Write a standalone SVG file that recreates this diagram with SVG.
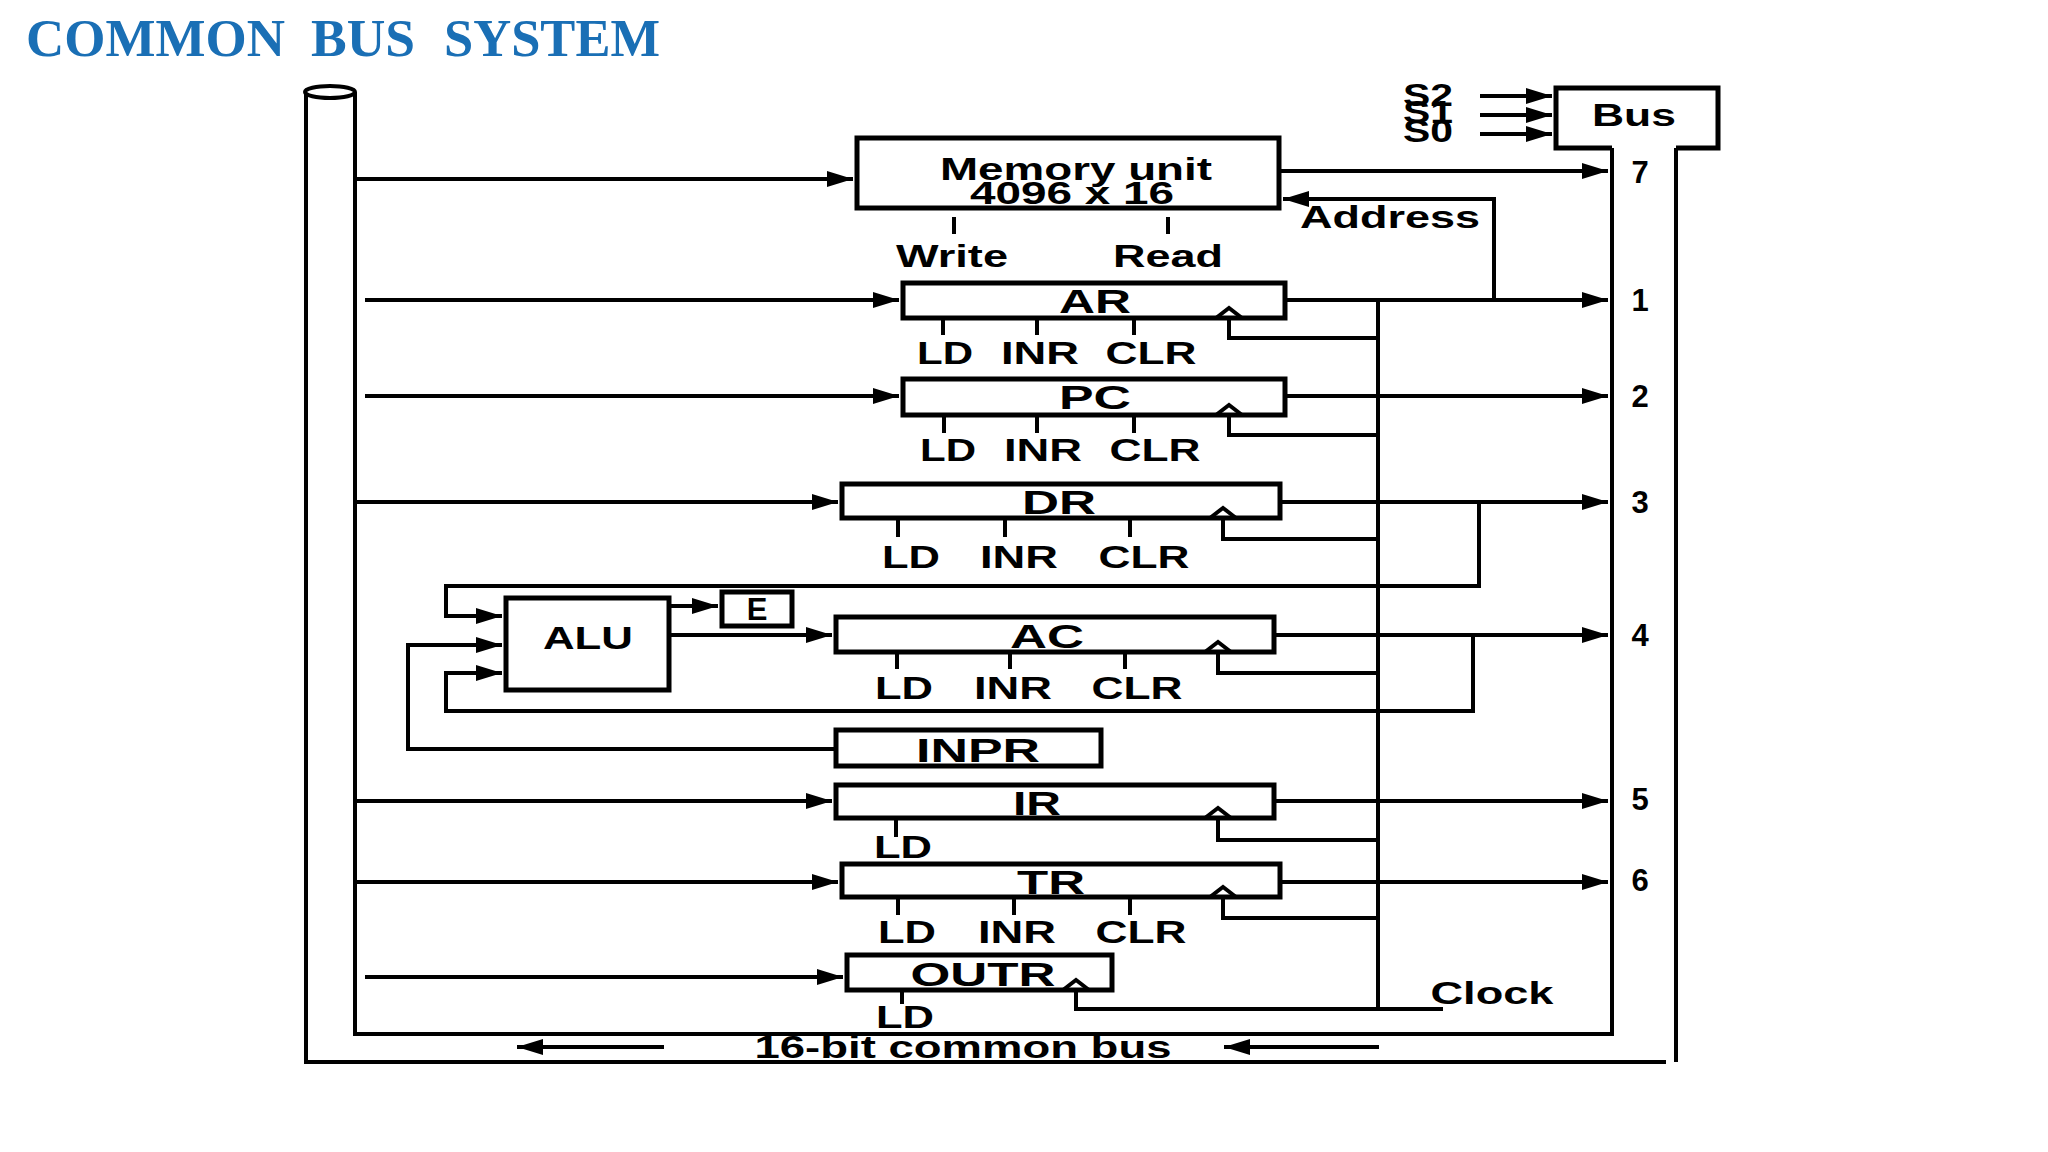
<svg xmlns="http://www.w3.org/2000/svg" width="2048" height="1152" viewBox="0 0 2048 1152">
<defs>
<marker id="a" markerWidth="26" markerHeight="16" refX="26" refY="8" orient="auto" markerUnits="userSpaceOnUse"><path d="M0,0 L26,8 L0,16 z" fill="#000"/></marker>
</defs>
<style>
.l{stroke:#000;stroke-width:4;fill:none}
.b{stroke:#000;stroke-width:5;fill:#fff}
.t{font-family:"Liberation Sans",Arial,sans-serif;font-weight:bold;font-size:31px;fill:#000;text-anchor:middle}
.r{font-size:34px}
.h{font-family:"Liberation Serif",serif;font-weight:bold;font-size:52px;fill:#1a6fb5}
</style>
<rect width="2048" height="1152" fill="#fff"/>
<g id="title">
<text class="h" x="26" y="56" textLength="259" lengthAdjust="spacingAndGlyphs">COMMON</text>
<text class="h" x="311" y="56" textLength="104" lengthAdjust="spacingAndGlyphs">BUS</text>
<text class="h" x="444" y="56" textLength="216" lengthAdjust="spacingAndGlyphs">SYSTEM</text>
</g>
<g id="bus">
<path class="l" d="M306,92 V1062 H1666"/>
<path class="l" d="M355,92 V1034 H1612 V148"/>
<path class="l" d="M1676,148 V1062"/>
<ellipse cx="330" cy="92" rx="25" ry="6" fill="#fff" stroke="#000" stroke-width="4"/>
<text class="t" x="963" y="1058" textLength="417" lengthAdjust="spacingAndGlyphs">16-bit common bus</text>
<path class="l" d="M664,1047 H517" marker-end="url(#a)"/>
<path class="l" d="M1379,1047 H1224" marker-end="url(#a)"/>
</g>
<g id="busselect">
<path class="b" d="M1612,148 H1556 V88 H1718 V148 H1676"/>
<text class="t" x="1634" y="126" textLength="84" lengthAdjust="spacingAndGlyphs">Bus</text>
<text class="t" x="1428" y="106" textLength="50" lengthAdjust="spacingAndGlyphs">S2</text>
<text class="t" x="1428" y="123" textLength="50" lengthAdjust="spacingAndGlyphs">S1</text>
<text class="t" x="1428" y="142" textLength="50" lengthAdjust="spacingAndGlyphs">S0</text>
<text class="t" x="1640" y="183">7</text>
<text class="t" x="1640" y="311">1</text>
<text class="t" x="1640" y="407">2</text>
<text class="t" x="1640" y="513">3</text>
<text class="t" x="1640" y="646">4</text>
<text class="t" x="1640" y="810">5</text>
<text class="t" x="1640" y="891">6</text>
</g>
<g id="mem">
<rect class="b" x="857" y="138" width="422" height="70"/>
<text class="t" x="1076" y="180" textLength="272" lengthAdjust="spacingAndGlyphs">Memory unit</text>
<text class="t" x="1072" y="204" textLength="204" lengthAdjust="spacingAndGlyphs">4096 x 16</text>
<path class="l" d="M954,217 V234 M1168,217 V234"/>
<text class="t" x="952" y="267" textLength="112" lengthAdjust="spacingAndGlyphs">Write</text>
<text class="t" x="1168" y="267" textLength="110" lengthAdjust="spacingAndGlyphs">Read</text>
<text class="t" x="1390" y="228" textLength="180" lengthAdjust="spacingAndGlyphs">Address</text>
</g>
<g id="AR"><rect class="b" x="903" y="283" width="382" height="35"/><text class="t r" x="1095" y="313" textLength="72" lengthAdjust="spacingAndGlyphs">AR</text>
<path class="l" d="M1216,318 L1229,308 L1242,318 M943,318 V335 M1037,318 V335 M1134,318 V335"/>
<text class="t" x="945" y="364" textLength="56" lengthAdjust="spacingAndGlyphs">LD</text><text class="t" x="1040" y="364" textLength="78" lengthAdjust="spacingAndGlyphs">INR</text><text class="t" x="1151" y="364" textLength="91" lengthAdjust="spacingAndGlyphs">CLR</text></g>
<g id="PC"><rect class="b" x="903" y="379" width="382" height="36"/><text class="t r" x="1095" y="409" textLength="72" lengthAdjust="spacingAndGlyphs">PC</text>
<path class="l" d="M1216,415 L1229,405 L1242,415 M944,415 V433 M1037,415 V433 M1134,415 V433"/>
<text class="t" x="948" y="461" textLength="56" lengthAdjust="spacingAndGlyphs">LD</text><text class="t" x="1043" y="461" textLength="78" lengthAdjust="spacingAndGlyphs">INR</text><text class="t" x="1155" y="461" textLength="91" lengthAdjust="spacingAndGlyphs">CLR</text></g>
<g id="DR"><rect class="b" x="842" y="484" width="438" height="34"/><text class="t r" x="1059" y="514" textLength="74" lengthAdjust="spacingAndGlyphs">DR</text>
<path class="l" d="M1210,518 L1223,508 L1236,518 M898,518 V537 M1005,518 V537 M1130,518 V537"/>
<text class="t" x="911" y="568" textLength="58" lengthAdjust="spacingAndGlyphs">LD</text><text class="t" x="1019" y="568" textLength="78" lengthAdjust="spacingAndGlyphs">INR</text><text class="t" x="1144" y="568" textLength="91" lengthAdjust="spacingAndGlyphs">CLR</text></g>
<g id="ALU"><rect class="b" x="506" y="598" width="163" height="92"/><text class="t" x="588" y="649" textLength="90" lengthAdjust="spacingAndGlyphs">ALU</text></g>
<g id="E"><rect class="b" x="722" y="592" width="70" height="34"/><text class="t" x="757" y="620">E</text></g>
<g id="AC"><rect class="b" x="836" y="617" width="438" height="35"/><text class="t r" x="1047" y="648" textLength="74" lengthAdjust="spacingAndGlyphs">AC</text>
<path class="l" d="M1205,652 L1218,642 L1231,652 M897,652 V669 M1010,652 V669 M1125,652 V669"/>
<text class="t" x="904" y="699" textLength="58" lengthAdjust="spacingAndGlyphs">LD</text><text class="t" x="1013" y="699" textLength="78" lengthAdjust="spacingAndGlyphs">INR</text><text class="t" x="1137" y="699" textLength="91" lengthAdjust="spacingAndGlyphs">CLR</text></g>
<g id="INPR"><rect class="b" x="836" y="730" width="265" height="36"/><text class="t r" x="978" y="762" textLength="124" lengthAdjust="spacingAndGlyphs">INPR</text></g>
<g id="IR"><rect class="b" x="836" y="785" width="438" height="33"/><text class="t r" x="1037" y="815" textLength="48" lengthAdjust="spacingAndGlyphs">IR</text>
<path class="l" d="M1205,818 L1218,808 L1231,818 M896,818 V837"/>
<text class="t" x="903" y="858" textLength="58" lengthAdjust="spacingAndGlyphs">LD</text></g>
<g id="TR"><rect class="b" x="842" y="864" width="438" height="33"/><text class="t r" x="1051" y="894" textLength="68" lengthAdjust="spacingAndGlyphs">TR</text>
<path class="l" d="M1210,897 L1223,887 L1236,897 M898,897 V915 M1014,897 V915 M1130,897 V915"/>
<text class="t" x="907" y="943" textLength="58" lengthAdjust="spacingAndGlyphs">LD</text><text class="t" x="1017" y="943" textLength="78" lengthAdjust="spacingAndGlyphs">INR</text><text class="t" x="1141" y="943" textLength="91" lengthAdjust="spacingAndGlyphs">CLR</text></g>
<g id="OUTR"><rect class="b" x="847" y="955" width="265" height="35"/><text class="t r" x="983" y="986" textLength="145" lengthAdjust="spacingAndGlyphs">OUTR</text>
<path class="l" d="M1063,990 L1076,980 L1089,990 M902,990 V1004"/>
<text class="t" x="905" y="1028" textLength="58" lengthAdjust="spacingAndGlyphs">LD</text><text class="t" x="1492" y="1004" textLength="123" lengthAdjust="spacingAndGlyphs">Clock</text></g>
<g id="connectors">
<path class="l" d="M355,179 H853" marker-end="url(#a)"/>
<path class="l" d="M1279,171 H1608" marker-end="url(#a)"/>
<path class="l" d="M1494,300 V199 H1283" marker-end="url(#a)"/>
<path class="l" d="M365,300 H899" marker-end="url(#a)"/>
<path class="l" d="M1285,300 H1608" marker-end="url(#a)"/>
<path class="l" d="M1480,96 H1552" marker-end="url(#a)"/>
<path class="l" d="M1480,115 H1552" marker-end="url(#a)"/>
<path class="l" d="M1480,134 H1552" marker-end="url(#a)"/>
<path class="l" d="M365,396 H899" marker-end="url(#a)"/>
<path class="l" d="M1285,396 H1608" marker-end="url(#a)"/>
<path class="l" d="M357,502 H838" marker-end="url(#a)"/>
<path class="l" d="M1280,502 H1608" marker-end="url(#a)"/>
<path class="l" d="M1479,502 V586 H446 V616 H502" marker-end="url(#a)"/>
<path class="l" d="M669,606 H718" marker-end="url(#a)"/>
<path class="l" d="M669,635 H832" marker-end="url(#a)"/>
<path class="l" d="M1274,635 H1608" marker-end="url(#a)"/>
<path class="l" d="M1473,635 V711 H446 V673 H502" marker-end="url(#a)"/>
<path class="l" d="M836,749 H408 V645 H502" marker-end="url(#a)"/>
<path class="l" d="M357,801 H832" marker-end="url(#a)"/>
<path class="l" d="M1274,801 H1608" marker-end="url(#a)"/>
<path class="l" d="M357,882 H838" marker-end="url(#a)"/>
<path class="l" d="M1280,882 H1608" marker-end="url(#a)"/>
<path class="l" d="M365,977 H843" marker-end="url(#a)"/>
<path class="l" d="M1378,300 V1009 M1443,1009 H1076 V990"/>
<path class="l" d="M1229,318 V338 H1378 M1229,415 V435 H1378 M1223,518 V539 H1378 M1218,652 V673 H1378 M1218,818 V840 H1378 M1223,897 V918 H1378"/>
</g>
</svg>
